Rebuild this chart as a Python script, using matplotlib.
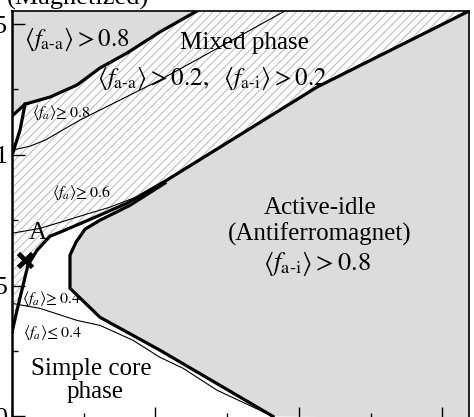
import numpy as np
import matplotlib
matplotlib.use("Agg")
import matplotlib.pyplot as plt
from matplotlib.patches import Polygon

plt.rcParams['font.family'] = ['Liberation Serif', 'DejaVu Serif']
plt.rcParams['mathtext.fontset'] = 'stix'
plt.rcParams['hatch.linewidth'] = 0.7

# boundaries (x, y)
# thick line: top-left magnetized region
mag_x = [0.0, 0.091, 0.265, 0.453, 0.613, 0.801, 1.031, 1.289]
mag_y = [1.148, 1.194, 1.221, 1.267, 1.332, 1.389, 1.470, 1.550]
# short near-vertical thick line
vert_x = [0.091, 0.056, 0.007]
vert_y = [1.194, 1.095, 1.010]
# upper edge of active-idle region, continuing as edge of simple core phase
edge_x = [3.185, 2.125, 1.540, 1.066, 0.801, 0.564, 0.334, 0.265, 0.174, 0.111, 0.077, 0.035, 0.0]
edge_y = [1.550, 1.259, 1.060, 0.899, 0.815, 0.758, 0.704, 0.689, 0.635, 0.578, 0.501, 0.406, 0.321]
# lower-left edge of active-idle region
ai_x = [1.066, 0.822, 0.613, 0.509, 0.446, 0.404, 0.404, 0.613, 1.031, 1.819]
ai_y = [0.892, 0.807, 0.750, 0.716, 0.666, 0.616, 0.490, 0.379, 0.253, 0.0]
# thin contour lines
faa02_x = [0.0, 0.125, 0.230, 0.474, 1.031, 1.902]
faa02_y = [1.018, 1.033, 1.056, 1.133, 1.286, 1.550]
fa06_x = [0.0, 0.195, 0.383, 0.495, 0.683, 0.900]
fa06_y = [0.700, 0.719, 0.750, 0.769, 0.800, 0.846]
fa04_x = [0.0, 0.195, 0.453, 0.613, 0.843, 1.031, 1.192, 1.429, 1.819]
fa04_y = [0.432, 0.413, 0.367, 0.348, 0.291, 0.226, 0.184, 0.100, 0.0]
point_A = (0.091, 0.597)

XMAX, YMAX = 3.185, 1.55
gray = '#dcdcdc'

fig = plt.figure(figsize=(4.74, 4.17), dpi=100)
ax = fig.add_axes([12 / 474, -2 / 417, 457 / 474, 408 / 417])
ax.set_xlim(0, XMAX)
ax.set_ylim(-0.01, YMAX)

# mixed phase (hatched)
hx = [0.0] + vert_x[::-1] + mag_x[1:] + [XMAX] + edge_x + [0.0]
hy = [1.010] + vert_y[::-1] + mag_y[1:] + [YMAX] + edge_y + [1.010]
ax.add_patch(Polygon(np.column_stack([hx, hy]), closed=True, facecolor='white',
                     edgecolor='#b8b8b8', linewidth=0, hatch='////', zorder=1))
# magnetized region
gx = mag_x + [0.0]
gy = mag_y + [YMAX]
ax.add_patch(Polygon(np.column_stack([gx, gy]), closed=True, facecolor=gray,
                     edgecolor='none', zorder=1))
# active-idle region
bx = edge_x[:4] + ai_x + [XMAX]
by = edge_y[:4] + ai_y + [-0.01]
ax.add_patch(Polygon(np.column_stack([bx, by]), closed=True, facecolor=gray,
                     edgecolor='none', zorder=1))

thick = dict(color='black', lw=2.3, solid_joinstyle='round', zorder=3)
thin = dict(color='black', lw=0.8, zorder=2)
ax.plot(mag_x, mag_y, **thick)
ax.plot(vert_x, vert_y, **thick)
ax.plot(edge_x, edge_y, **thick)
ax.plot(ai_x, ai_y, **thick)
ax.plot(faa02_x, faa02_y, **thin)
ax.plot(fa06_x, fa06_y, **thin)
ax.plot(fa04_x, fa04_y, **thin)
ax.plot(*point_A, marker='x', ms=10, mew=3.5, color='black', zorder=4)

big = 19
ax.text(0.46, 1.575, '(Magnetized)', fontsize=big, ha='center', va='baseline', clip_on=False)
ax.text(0.085, 1.415, r'$\left\langle f_{\mathrm{a}\text{-}\mathrm{a}}\right\rangle > 0.8$',
        fontsize=big - 1, ha='left', va='baseline', zorder=5)
ax.text(1.617, 1.405, 'Mixed phase', fontsize=big - 1, ha='center', va='baseline', zorder=5)
ax.text(1.394, 1.267,
        r'$\left\langle f_{\mathrm{a}\text{-}\mathrm{a}}\right\rangle > 0.2,\ \ \left\langle f_{\mathrm{a}\text{-}\mathrm{i}}\right\rangle > 0.2$',
        fontsize=big - 1, ha='center', va='baseline', zorder=5)
ax.text(2.146, 0.773, 'Active-idle', fontsize=big - 1, ha='center', va='baseline', zorder=5)
ax.text(2.146, 0.672, '(Antiferromagnet)', fontsize=big - 1, ha='center', va='baseline', zorder=5)
ax.text(2.13, 0.56, r'$\left\langle f_{\mathrm{a}\text{-}\mathrm{i}}\right\rangle > 0.8$',
        fontsize=big, ha='center', va='baseline', zorder=5)
ax.text(0.55, 0.157, 'Simple core', fontsize=big - 1, ha='center', va='baseline', zorder=5)
ax.text(0.578, 0.069, 'phase', fontsize=big - 1, ha='center', va='baseline', zorder=5)
ax.text(0.181, 0.70, 'A', fontsize=big - 1, ha='center', va='center', zorder=5)

small = 11.5
ax.text(0.139, 1.144, r'$\langle f_a\rangle\!\geq 0.8$', fontsize=small, ha='left', va='baseline', zorder=5)
ax.text(0.279, 0.838, r'$\langle f_a\rangle\!\geq 0.6$', fontsize=small, ha='left', va='baseline', zorder=5)
ax.text(0.070, 0.432, r'$\langle f_a\rangle\!\geq 0.4$', fontsize=small, ha='left', va='baseline', zorder=5)
ax.text(0.077, 0.302, r'$\langle f_a\rangle\!\leq 0.4$', fontsize=small, ha='left', va='baseline', zorder=5)

ax.set_xticks([0, 1, 2, 3])
ax.set_xticks([0.5, 1.5, 2.5], minor=True)
ax.set_yticks([0, 0.5, 1, 1.5])
ax.set_yticklabels(['0', '0.5', '1', '1.5'])
ax.set_yticks([0.25, 0.75, 1.25], minor=True)
ax.tick_params(which='both', direction='in', top=False, right=False,
               labelbottom=False, labelsize=big, pad=3, width=1)
ax.tick_params(which='major', length=9)
ax.tick_params(which='minor', length=4.5)
for s in ax.spines.values():
    s.set_linewidth(1.2)
ax.spines['left'].set_linewidth(1.8)

fig.savefig('out.png', dpi=100)
